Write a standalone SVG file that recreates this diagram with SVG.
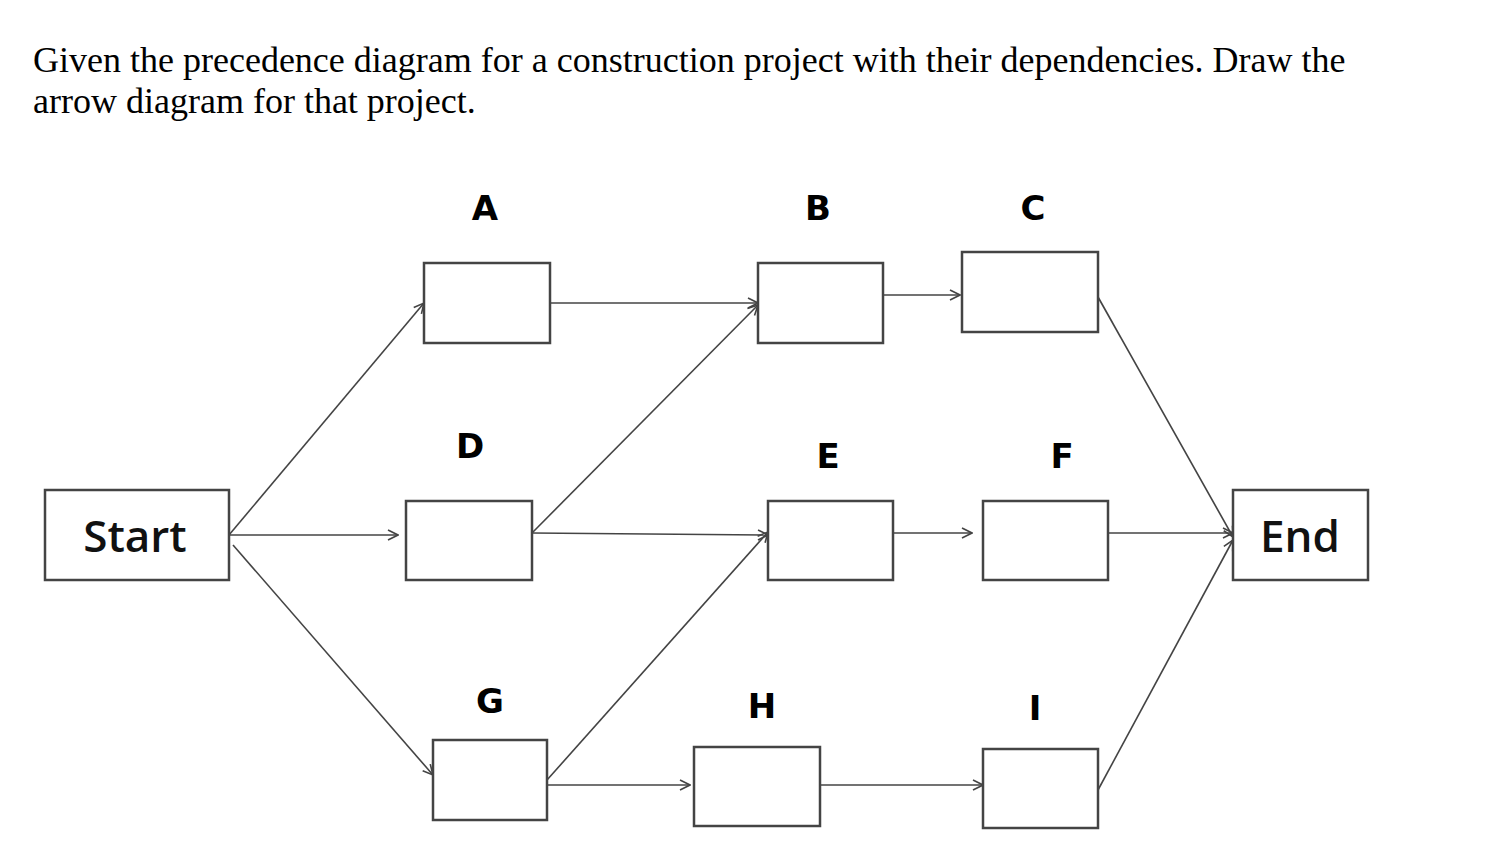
<svg xmlns="http://www.w3.org/2000/svg" width="1488" height="868" viewBox="0 0 1488 868">
<style>
.t{font-family:"Liberation Serif",serif;font-size:36px;fill:#000}
.box{fill:#fff;stroke:#444;stroke-width:2.5}
.lbl{font-family:"DejaVu Sans",sans-serif;font-weight:bold;font-size:34px;text-anchor:middle;fill:#000}
.big{font-family:"Open Sans",sans-serif;font-size:44px;font-weight:600;text-anchor:middle;fill:#111}
.c line{stroke:#444;stroke-width:1.6;marker-end:url(#ah)}
</style>
<defs><marker id="ah" markerWidth="12" markerHeight="12" refX="11" refY="6" orient="auto" markerUnits="userSpaceOnUse"><path d="M1,1 L11,6 L1,11" fill="none" stroke="#444" stroke-width="1.6"/></marker></defs>
<rect width="1488" height="868" fill="#fff"/>
<text class="t" x="33" y="72">Given the precedence diagram for a construction project with their dependencies. Draw the</text>
<text class="t" x="33" y="113">arrow diagram for that project.</text>
<g class="c">
<line x1="229" y1="535" x2="424" y2="303"/>
<line x1="229" y1="535" x2="398" y2="535"/>
<line x1="233" y1="545" x2="433" y2="775"/>
<line x1="550" y1="303" x2="758" y2="303"/>
<line x1="883" y1="295" x2="960" y2="295"/>
<line x1="532" y1="533" x2="758" y2="305"/>
<line x1="532" y1="533" x2="768" y2="535"/>
<line x1="547" y1="780" x2="768" y2="532"/>
<line x1="547" y1="785" x2="690" y2="785"/>
<line x1="820" y1="785" x2="983" y2="785"/>
<line x1="893" y1="533" x2="972" y2="533"/>
<line x1="1108" y1="533" x2="1233" y2="533"/>
<line x1="1098" y1="297" x2="1233" y2="537"/>
<line x1="1098" y1="790" x2="1233" y2="540"/>
</g>
<g id="start"><rect class="box" x="45" y="490" width="184" height="90"/><text class="big" x="135" y="552">Start</text></g>
<g id="end"><rect class="box" x="1233" y="490" width="135" height="90"/><text class="big" x="1300" y="552">End</text></g>
<g id="A"><rect class="box" x="424" y="263" width="126" height="80"/><text class="lbl" x="485" y="220">A</text></g>
<g id="B"><rect class="box" x="758" y="263" width="125" height="80"/><text class="lbl" x="818" y="220">B</text></g>
<g id="C"><rect class="box" x="962" y="252" width="136" height="80"/><text class="lbl" x="1033" y="220">C</text></g>
<g id="D"><rect class="box" x="406" y="501" width="126" height="79"/><text class="lbl" x="470" y="458">D</text></g>
<g id="E"><rect class="box" x="768" y="501" width="125" height="79"/><text class="lbl" x="828" y="468">E</text></g>
<g id="F"><rect class="box" x="983" y="501" width="125" height="79"/><text class="lbl" x="1062" y="468">F</text></g>
<g id="G"><rect class="box" x="433" y="740" width="114" height="80"/><text class="lbl" x="490" y="713">G</text></g>
<g id="H"><rect class="box" x="694" y="747" width="126" height="79"/><text class="lbl" x="762" y="718">H</text></g>
<g id="I"><rect class="box" x="983" y="749" width="115" height="79"/><text class="lbl" x="1035" y="720" font-family="DejaVu Serif">I</text></g>
</svg>
